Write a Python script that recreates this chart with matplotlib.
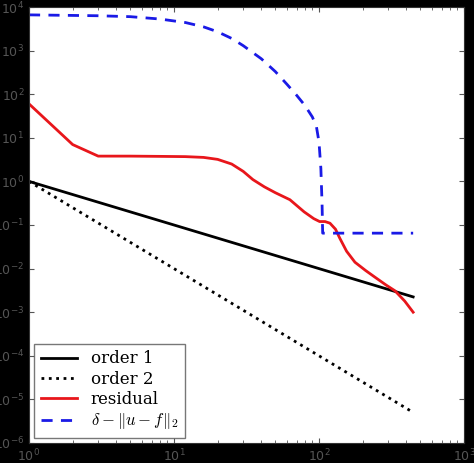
import numpy as np
import matplotlib
matplotlib.use('Agg')
import matplotlib.pyplot as plt

plt.rcParams['mathtext.fontset'] = 'cm'

n_max = 446
x_ord = np.array([1, n_max])
order1 = 1.0 / x_ord
order2 = 1.0 / x_ord**2

res_x = [1, 2, 3, 5, 8, 12, 16, 20, 25, 30, 35, 42, 50, 63, 79, 92, 101, 110, 119, 130, 139, 155, 177, 210, 244, 290, 334, 390, 446]
res_y = [60, 7, 3.8, 3.8, 3.75, 3.7, 3.55, 3.2, 2.5, 1.7, 1.1, 0.75, 0.55, 0.38, 0.2, 0.14, 0.12, 0.12, 0.11, 0.08, 0.05, 0.025, 0.014, 0.009, 0.0063, 0.0042, 0.0031, 0.0018, 0.001]

gap_x = [1, 3, 5, 8, 12, 16, 20, 25, 30, 40, 50, 60, 70, 80, 90, 96, 100, 103, 105, 106, 200, 446]
gap_y = [6600, 6300, 6000, 5300, 4400, 3500, 2700, 1900, 1300, 650, 330, 170, 95, 55, 30, 18, 8, 2, 0.3, 0.065, 0.065, 0.065]

fig = plt.figure(figsize=(4.74, 4.63), dpi=100, facecolor='black')
ax = fig.add_axes([29/474, 20/463, 435/474, 436/463])
ax.plot(x_ord, order1, 'k-', lw=2, label='order 1')
ax.plot(x_ord, order2, 'k:', lw=2, label='order 2')
ax.plot(res_x, res_y, color='#e8161b', lw=2, label='residual')
ax.plot(gap_x, gap_y, '--', color='#1a1ae6', lw=2, dashes=(4, 3), label=r'$\delta-\|u-f\|_2$')
ax.set_xscale('log')
ax.set_yscale('log')
ax.set_xlim(1, 1000)
ax.set_ylim(1e-6, 1e4)
ax.set_yticks([10.0**k for k in range(-6, 5)])
ax.tick_params(which='both', direction='in', top=True, right=True, colors='#555555', labelsize=9)
for s in ax.spines.values():
    s.set_color('#333333')
leg = ax.legend(loc='lower left', prop={'family': 'DejaVu Serif', 'size': 12}, fancybox=False,
                edgecolor='#555555', handlelength=2.2, borderaxespad=0.3, labelspacing=0.2)
plt.savefig('out.png', facecolor='black')
